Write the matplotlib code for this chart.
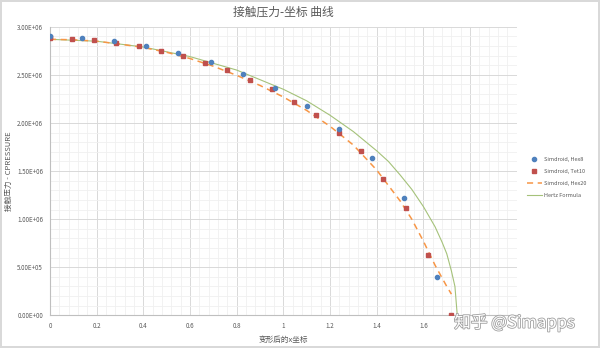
import matplotlib
matplotlib.use('Agg')
import matplotlib.pyplot as plt
import matplotlib.patheffects as pe
from matplotlib.ticker import MultipleLocator, FuncFormatter
import numpy as np

plt.rcParams['font.family'] = ['Noto Sans CJK SC', 'DejaVu Sans']

# Simdroid, Hex8 (x, pressure)
hex8_x = [0.0, 0.138, 0.274, 0.412, 0.549, 0.690, 0.825, 0.965, 1.100, 1.240, 1.378, 1.518, 1.660]
hex8_p = [2.906e6, 2.879e6, 2.851e6, 2.800e6, 2.723e6, 2.630e6, 2.508e6, 2.360e6,
          2.173e6, 1.937e6, 1.638e6, 1.219e6, 0.398e6]

# Simdroid, Tet10
tet10_x = [0.0, 0.0, 0.095, 0.189, 0.284, 0.380, 0.476, 0.569, 0.665, 0.760, 0.855,
           0.951, 1.047, 1.141, 1.239, 1.333, 1.428, 1.526, 1.621, 1.718]
tet10_p = [2.895e6, 2.879e6, 2.869e6, 2.859e6, 2.827e6, 2.799e6, 2.744e6, 2.692e6,
           2.620e6, 2.550e6, 2.449e6, 2.349e6, 2.214e6, 2.082e6, 1.892e6, 1.708e6,
           1.414e6, 1.119e6, 0.630e6, 0.0]

# Simdroid, Hex20 (dashed)
hex20_x = [0, 0.1, 0.2, 0.3, 0.4, 0.5, 0.6, 0.7, 0.8, 0.9, 1.0, 1.1, 1.2, 1.3,
           1.4, 1.5, 1.55, 1.6, 1.65, 1.7, 1.72]
hex20_p = [2.87e6, 2.865e6, 2.85e6, 2.82e6, 2.785e6, 2.735e6, 2.67e6, 2.59e6,
           2.495e6, 2.39e6, 2.27e6, 2.13e6, 1.965e6, 1.77e6, 1.51e6, 1.19e6,
           1.0e6, 0.77e6, 0.52e6, 0.30e6, 0.22e6]

# Hertz Formula
hertz_x = [0, 0.2, 0.4, 0.6, 0.8, 1.0, 1.1, 1.2, 1.3, 1.4, 1.45, 1.5, 1.55, 1.6,
           1.65, 1.68, 1.70, 1.72, 1.735, 1.745]
hertz_p = [2.87e6, 2.85e6, 2.79e6, 2.69e6, 2.55e6, 2.35e6, 2.23e6, 2.08e6, 1.91e6,
           1.71e6, 1.60e6, 1.46e6, 1.31e6, 1.13e6, 0.92e6, 0.76e6, 0.64e6, 0.46e6,
           0.30e6, 0.0]

fig = plt.figure(figsize=(6, 3.48), dpi=100)
fig.patch.set_edgecolor('#d9d9d9')
fig.patch.set_linewidth(1.5)
ax = fig.add_axes([0.0833, 0.094, 0.778, 0.829])

ax.plot(hertz_x, hertz_p, color='#A5C27A', lw=0.8, label='Hertz Formula', zorder=3)
ax.plot(hex20_x, hex20_p, color='#F79646', lw=1.1, ls=(0, (4, 3)), label='Simdroid, Hex20', zorder=3)
ax.plot(tet10_x, tet10_p, 's', color='#C0504D', ms=3.2, label='Simdroid, Tet10', zorder=4)
ax.plot(hex8_x, hex8_p, 'o', color='#4F81BD', ms=3.0, label='Simdroid, Hex8', zorder=5)

ax.set_xlim(0, 2)
ax.set_ylim(0, 3e6)
ax.xaxis.set_major_locator(MultipleLocator(0.2))
ax.xaxis.set_minor_locator(MultipleLocator(0.04))
ax.yaxis.set_major_locator(MultipleLocator(5e5))
ax.yaxis.set_minor_locator(MultipleLocator(1e5))
# labels past 1.6 sit under the watermark in the original
ax.xaxis.set_major_formatter(FuncFormatter(lambda v, p: f"{v:g}" if v < 1.7 else ""))
ax.yaxis.set_major_formatter(FuncFormatter(lambda v, p: f"{v:.2E}"))
ax.grid(True, which='major', color='#d9d9d9', lw=0.7)
ax.grid(True, which='minor', color='#f0f0f0', lw=0.6)
ax.set_axisbelow(True)
for s in ['top', 'right']:
    ax.spines[s].set_visible(False)
for s in ['left', 'bottom']:
    ax.spines[s].set_color('#bfbfbf')
    ax.spines[s].set_linewidth(0.8)
ax.tick_params(which='both', length=0, labelsize=4.5, colors='#595959', pad=5)

ax.set_title('接触压力-坐标 曲线', fontsize=8.5, color='#595959', pad=8)
ax.set_xlabel('变形后的x坐标', fontsize=5.5, color='#595959', labelpad=4)
ax.set_ylabel('接触压力 - CPRESSURE', fontsize=5.5, color='#595959', labelpad=3)

h, l = ax.get_legend_handles_labels()
order = [3, 2, 1, 0]
fig.legend([h[i] for i in order], [l[i] for i in order], loc='center left',
           bbox_to_anchor=(0.875, 0.49), frameon=False, fontsize=4,
           labelcolor='#595959', handlelength=2.6, handletextpad=0.5,
           labelspacing=1.3, borderaxespad=0)

fig.text(0.757, 0.073, '知乎 @Simapps', fontsize=12, color='#ffffff',
         ha='left', va='center',
         path_effects=[pe.withStroke(linewidth=1.2, foreground='#a0a0a0')])

fig.savefig('out.png', dpi=100)
